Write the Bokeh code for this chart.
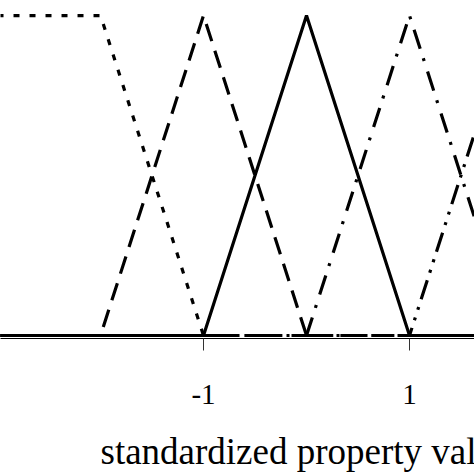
from bokeh.plotting import figure
from bokeh.models import FixedTicker, Title
from bokeh.embed import file_html
from bokeh.resources import INLINE

# membership functions (x breakpoints, membership values)
x_vl = [-3, -2, -1, 3]
y_vl = [1, 1, 0, 0]
x_l = [-3, -2, -1, 0, 3]
y_l = [0, 0, 1, 0, 0]
x_m = [-3, -1, 0, 1, 3]
y_m = [0, 0, 1, 0, 0]
x_h = [-3, 0, 1, 2, 3]
y_h = [0, 0, 1, 0, 0]
x_vh = [-3, 1, 2, 3]
y_vh = [0, 0, 1, 1]

tick_values = [-3, -1, 1, 3]
tick_labels = {-3: "-3", -1: "-1", 1: "1", 3: "3"}
axis_title = "standardized property values"

p = figure(frame_width=474, frame_height=338,
           x_range=(-2.971, 1.631), y_range=(-0.0094, 1.047),
           output_backend="svg", toolbar_location=None,
           min_border_left=0, min_border_right=0, min_border_top=0, min_border_bottom=0)
p.outline_line_color = None
p.grid.visible = False
p.yaxis.visible = False
p.background_fill_color = "white"
p.border_fill_color = "white"

lw = 3.2
p.line(x_vl, y_vl, line_color="black", line_width=lw, line_dash="6 10")
p.line(x_l, y_l, line_color="black", line_width=lw, line_dash="18 10")
p.line(x_h, y_h, line_color="black", line_width=lw, line_dash="20 10 3 11")
p.line(x_vh, y_vh, line_color="black", line_width=lw, line_dash="20 8 3 8 3 8")
p.line(x_m, y_m, line_color="black", line_width=lw)

ax = p.xaxis[0]
ax.ticker = FixedTicker(ticks=tick_values)
ax.major_label_overrides = tick_labels
ax.minor_tick_line_color = None
ax.major_tick_in = 0
ax.major_tick_out = 12
ax.major_tick_line_color = "#333333"
ax.major_tick_line_width = 1
ax.axis_line_color = "black"
ax.axis_line_width = 1
ax.major_label_text_font = "Liberation Serif"
ax.major_label_text_font_size = "29px"
ax.major_label_text_color = "black"
ax.major_label_standoff = 34

t = Title(text=axis_title, align="left", offset=100, standoff=44,
          text_font="Liberation Serif", text_font_size="37px",
          text_font_style="normal", text_color="black")
p.add_layout(t, "below")

open("out.html", "w").write(file_html(p, INLINE))
